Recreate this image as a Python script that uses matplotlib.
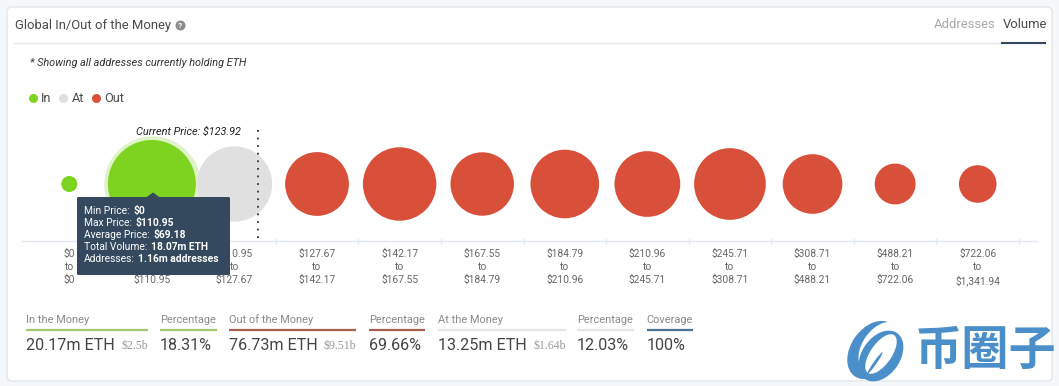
import matplotlib
matplotlib.use("Agg")
import matplotlib.pyplot as plt
from matplotlib.patches import FancyBboxPatch, Polygon, Ellipse

plt.rcParams['font.family'] = ['Roboto', 'Noto Sans CJK SC', 'DejaVu Sans']

low_prices = ["$0", "$0", "$110.95", "$127.67", "$142.17", "$167.55", "$184.79", "$210.96", "$245.71", "$308.71", "$488.21", "$722.06"]
high_prices = ["$0", "$110.95", "$127.67", "$142.17", "$167.55", "$184.79", "$210.96", "$245.71", "$308.71", "$488.21", "$722.06", "$1,341.94"]
# volume in m ETH
volumes = [0.6, 18.07, 13.25, 9.5, 12.6, 9.4, 11.0, 10.1, 12.0, 8.3, 3.9, 3.3]
states = ["in", "in", "at", "out", "out", "out", "out", "out", "out", "out", "out", "out"]
state_colors = {"in": "#7ed321", "at": "#e0e0e0", "out": "#d9503a"}

legend_names = ["In", "At", "Out"]
tooltip_names = ["Min Price:", "Max Price:", "Average Price:", "Total Volume:", "Addresses:"]
tooltip_values = ["$0", "$110.95", "$69.18", "18.07m ETH", "1.16m addresses"]

stat_headers = ["In the Money", "Percentage", "Out of the Money", "Percentage", "At the Money", "Percentage", "Coverage"]
stat_values = ["20.17m ETH", "18.31%", "76.73m ETH", "69.66%", "13.25m ETH", "12.03%", "100%"]
stat_small = ["$2.5b", "", "$9.51b", "", "$1.64b", "", ""]
stat_left = [26, 160, 229, 369, 437.5, 577, 646.5]
stat_right = [148, 217, 356, 425, 566, 634, 693]
stat_line = ["#a3c76d", "#a3c76d", "#a5604f", "#a5604f", "#e6e6e6", "#e6e6e6", "#4a7396"]

W, H = 1059, 386
fig = plt.figure(figsize=(W / 100, H / 100), dpi=100, facecolor="#f5f8fb")

# pixel coordinate layers for the page parts
bg = fig.add_axes([0, 0, 1, 1], zorder=0)
top = fig.add_axes([0, 0, 1, 1], zorder=2)
for a in (bg, top):
    a.set_xlim(0, W)
    a.set_ylim(H, 0)
    a.axis("off")
    a.patch.set_alpha(0)

bg.add_patch(FancyBboxPatch((7, 7), 1045, 374, boxstyle="round,pad=0,rounding_size=5",
                            fc="white", ec="#e3e7ea", lw=1))
bg.plot([14, 1045], [43, 43], color="#e6e8ea", lw=1)
bg.plot([1002, 1045], [42.5, 42.5], color="#34495e", lw=1.5)
bg.text(15, 25, "Global In/Out of the Money", fontsize=9.4, color="#4a4a4a", va="center")
bg.scatter([180], [25], s=38, color="#8c8c8c")
bg.text(180, 25, "?", fontsize=6, color="white", va="center", ha="center", fontweight="bold")
bg.text(934, 25, "Addresses", fontsize=9.4, color="#a8a8a8", va="center")
bg.text(1002.5, 25, "Volume", fontsize=9.4, color="#4a4a4a", va="center")
bg.text(30, 63, "* Showing all addresses currently holding ETH", fontsize=7.8, style="italic",
        color="#333333", va="center")

# legend
for lx, tx, name, key in zip([33, 63, 96], [41, 72, 104], legend_names, ["in", "at", "out"]):
    bg.scatter([lx], [98], s=42, color=state_colors[key], linewidths=0)
    bg.text(tx, 98, name, fontsize=9.2, color="#4a4a4a", va="center")

# axis line runs wider than the bubble area
bg.plot([22, 1037], [241, 241], color="#e3e8f2", lw=1)

# bubble chart
ax = fig.add_axes([28 / W, 1 - 241 / H, 991 / W, 113 / H], zorder=1)
ax.patch.set_alpha(0)
positions = list(range(len(volumes)))
ax.set_xlim(-0.5, 11.5)
ax.set_ylim(-57, 56)
sizes = [v * 222 for v in volumes]
colors = [state_colors[s] for s in states]
ax.scatter([1], [0], s=sizes[1] * 1.2, color="#7ed321", alpha=0.25, linewidths=0, clip_on=False)
ax.scatter(positions, [0] * len(positions), s=sizes, c=colors, linewidths=0, clip_on=False, zorder=3)
for s in ["top", "left", "right"]:
    ax.spines[s].set_visible(False)
ax.spines["bottom"].set_color("#e3e8f2")
ax.set_yticks([])
ax.set_xticks([p + 0.5 for p in positions])
ax.set_xticklabels([])
ax.tick_params(axis="x", length=5, direction="inout", color="#e3e8f2", width=1)
for p, lo, hi in zip(positions, low_prices, high_prices):
    ax.annotate(lo + "\nto\n" + hi, (p, -57), xytext=(0, -5.5), textcoords="offset points", ha="center", va="top",
                fontsize=7.4, color="#666666", linespacing=1.36, annotation_clip=False)
ax.axvline(2.28, color="#333333", lw=1.3, ls=(0, (1, 3.2)), ymin=0.03, ymax=1.0, zorder=4)
top.text(188, 132, "Current Price: $123.92", fontsize=7.8, style="italic", color="#222222",
         va="center", ha="center")

# tooltip
top.add_patch(Polygon([[146, 197.5], [153, 192.5], [160, 197.5]], fc="#34495e", ec="none"))
top.add_patch(FancyBboxPatch((77, 197), 153, 78, boxstyle="round,pad=0,rounding_size=1.5", fc="#34495e", ec="none"))
fig.canvas.draw()
rend = fig.canvas.get_renderer()
for i, (n, v) in enumerate(zip(tooltip_names, tooltip_values)):
    y = 211 + 12 * i
    t = top.text(84, y, n, fontsize=7.4, color="white", va="center")
    x1 = top.transData.inverted().transform(t.get_window_extent(rend))[1][0]
    top.text(x1 + 3.5, y, v, fontsize=7.4, color="white", va="center", fontweight="bold")

# stats row
for i in range(len(stat_headers)):
    bg.text(stat_left[i], 320, stat_headers[i], fontsize=7.9, color="#8a8a8a", va="center")
    bg.plot([stat_left[i], stat_right[i]], [330, 330], color=stat_line[i], lw=1.6, solid_capstyle="butt")
    bg.text(stat_left[i], 345, stat_values[i], fontsize=11.6, color="#444444", va="center")
    if stat_small[i]:
        bg.text(stat_right[i], 346, stat_small[i], fontsize=8.6, color="#9a9a9a", va="center", ha="right",
                family="Liberation Serif")

# watermark
blue = "#4a8fc9"
top.add_patch(Ellipse((873, 350), 44, 64, angle=35, fc=blue, ec="none"))
top.add_patch(Ellipse((880, 347), 35, 56, angle=35, fc="white", ec="none"))
top.add_patch(Ellipse((881, 356), 38, 56, angle=35, fc=blue, ec="none"))
top.add_patch(Ellipse((881, 354), 21, 46, angle=35, fc="white", ec="none"))
top.add_patch(Ellipse((875, 363), 3, 26, angle=35, fc=blue, ec="none"))
top.text(986, 352, "币圈子", fontsize=34, fontweight="bold", color=blue, ha="center", va="center")

fig.savefig("out.png", dpi=100, facecolor=fig.get_facecolor())
